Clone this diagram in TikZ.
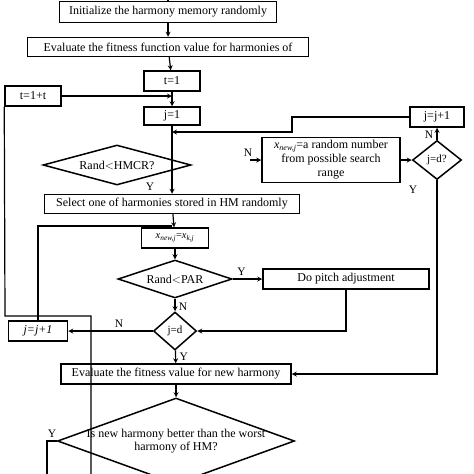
\documentclass[tikz,border=0pt]{standalone}
\usepackage{fontspec}
\setmainfont{Liberation Serif}
\usetikzlibrary{shapes.geometric}
\begin{document}
\begin{tikzpicture}[>=stealth, x=1pt, y=-1pt,
    font=\fontsize{12}{13}\selectfont,
    box/.style={draw, line width=1.5pt, inner sep=1pt, align=center},
    dec/.style={draw, diamond, line width=1.5pt, inner sep=0pt, align=center},
    line/.style={line width=1.2pt},
    lbl/.style={font=\fontsize{11.5}{12}\selectfont}]
    \useasboundingbox (0,0) rectangle (474,474);
    % boxes
    \node[box, minimum width=217, minimum height=21] (init) at (168,12) {Initialize the harmony memory randomly};
    \node[box, minimum width=281, minimum height=19] (evalf) at (168,47) {Evaluate the fitness function value for harmonies of};
    \node[box, minimum width=56, minimum height=20] (t1) at (172,81) {t=1};
    \node[box, minimum width=56, minimum height=18] (j1) at (172,116) {j=1};
    \node[box, minimum width=56, minimum height=20] (tinc) at (33,96) {t=1+t};
    \node[dec, aspect=3.7, minimum width=148, minimum height=40] (hmcr) at (117,165) {Rand$<$HMCR?};
    \node[box, minimum width=138, minimum height=45, font=\fontsize{12}{14}\selectfont] (rnd) at (331,160) {{\itshape x\textsubscript{new,j}}=a random number\\from possible search\\range};
    \node[dec, aspect=1.25, minimum width=49, minimum height=39, font=\fontsize{11}{12}\selectfont] (jdd) at (437,160) {j=d?};
    \node[box, minimum width=54, minimum height=20] (jinc2) at (437,117) {j=j+1};
    \node[box, minimum width=255, minimum height=19] (sel) at (172,204) {Select one of harmonies stored in HM randomly};
    \node[box, minimum width=67, minimum height=20, font=\fontsize{10.5}{11}\selectfont] (xk) at (175,238) {{\itshape x\textsubscript{new,j}}=\textit{x}\textsubscript{\textit{k,j}}};
    \node[dec, aspect=3, minimum width=114, minimum height=38] (par) at (175,279) {Rand$<$PAR};
    \node[box, minimum width=166, minimum height=20] (pitch) at (346,279) {Do pitch adjustment};
    \node[dec, aspect=1.1, inner sep=-1pt, minimum width=43, minimum height=38, font=\fontsize{11}{12}\selectfont] (jd) at (175,331) {j=d};
    \node[box, minimum width=59, minimum height=20] (jinc) at (38,331) {\itshape j=j+1};
    \node[box, minimum width=230, minimum height=20] (evaln) at (176,374) {Evaluate the fitness value for new harmony};
    \node[dec, aspect=2.76, inner xsep=-22pt, minimum width=237, minimum height=86] (better) at (176,441) {Is new harmony better than the worst\\harmony of HM?};
    % free ends
    \coordinate (topin) at (168,0);
    \coordinate (tjoin) at (172,96);
    \coordinate (jback) at (172,132);
    \coordinate (jbend) at (292,132);
    \coordinate (nin) at (250,160);
    \coordinate (ljoin) at (172,226);
    \coordinate (ybend) at (47,441);
    \coordinate (ybot) at (47,480);
    \coordinate (nbot) at (91,480);
    \coordinate (nup) at (91,316);
    \coordinate (nleft) at (5,316);
    % connectors
    \draw[line] (topin) -- (init);
    \draw[line, ->] (init) -- (evalf);
    \draw[line, ->] (evalf) -- (t1);
    \draw[line, ->] (t1) -- (j1);
    \draw[line, ->] (tinc.east |- tjoin) -- (tjoin);
    \draw[line, ->] (j1) -- (sel);
    \draw[line, ->] (jinc2.west) -| (jbend) -- (jback);
    \draw[line, ->] (nin) node[above, lbl, xshift=-2]{N} -- (rnd.west);
    \draw[line, ->] (rnd) -- (jdd);
    \draw[line, ->] (jdd) -- node[left, lbl, pos=.4]{N} (jinc2);
    \draw[line, ->] (jdd.south) |- (evaln.east);
    \node[lbl] at (413,190) {Y};
    \node[lbl] at (150,187) {Y};
    \draw[line, ->] (sel) -- (xk);
    \draw[line] (jinc.north) |- (ljoin);
    \draw[line, ->] (xk) -- (par);
    \draw[line, ->] (par) -- node[above, lbl, pos=.3]{Y} (pitch);
    \draw[line, ->] (par) -- node[right, lbl, pos=.6]{N} (jd);
    \draw[line, ->] (pitch.south) |- (jd.east);
    \draw[line, ->] (jd) -- node[above, lbl, pos=.4]{N} (jinc);
    \draw[line, ->] (jd) -- node[right, lbl]{Y} (evaln);
    \draw[line, ->] (evaln) -- (better);
    \draw[line] (better.west) -- (ybend) node[above, lbl, xshift=5]{Y} -- (ybot);
    \draw[line] (nbot) -- (nup) -- (nleft) -- (tinc.south west);
\end{tikzpicture}
\end{document}
